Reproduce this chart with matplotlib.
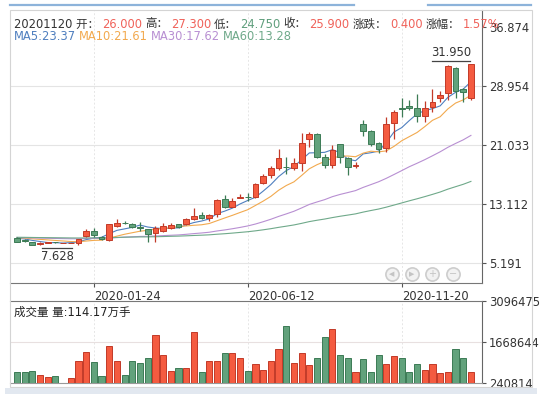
import matplotlib
matplotlib.use('Agg')
import matplotlib.pyplot as plt
import numpy as np
import pandas as pd
from matplotlib.lines import Line2D
from matplotlib.patches import Rectangle

W, H = 543, 395

# weekly K-line data (visible window)
opens = [8.54, 8.30, 8.05, 7.73, 7.95, 8.02, 7.90, 7.90, 7.91, 8.85,
         9.56, 8.76, 8.31, 10.19, 10.60, 10.46, 10.05, 9.74, 9.21, 9.56,
         9.97, 10.41, 10.41, 11.08, 11.62, 11.31, 11.75, 13.76, 12.78, 13.98,
         14.10, 14.12, 15.91, 17.03, 18.01, 18.15, 17.92, 18.59, 21.85, 22.52,
         19.48, 18.37, 21.14, 19.35, 18.23, 23.82, 22.97, 21.36, 20.60, 24.04,
         26.00, 26.32, 26.05, 24.93, 26.19, 27.30, 28.06, 31.32, 28.51, 27.30]
highs = [8.67, 8.40, 8.10, 8.00, 8.05, 8.10, 7.95, 7.96, 8.50, 9.74,
         9.88, 8.80, 10.50, 11.08, 10.80, 10.60, 10.70, 9.80, 10.20, 10.55,
         10.55, 10.50, 11.30, 12.56, 12.00, 11.80, 13.80, 14.30, 13.90, 14.50,
         14.60, 16.00, 17.10, 18.23, 20.47, 19.48, 19.26, 22.61, 22.83, 22.60,
         19.80, 21.05, 21.20, 19.40, 18.80, 24.40, 23.10, 21.50, 24.76, 25.75,
         27.30, 27.08, 27.84, 26.99, 28.51, 28.33, 31.77, 31.46, 28.70, 31.95]
lows = [8.00, 8.00, 7.65, 7.628, 7.90, 7.90, 7.88, 7.86, 7.70, 8.67,
        8.76, 8.35, 8.20, 10.10, 10.40, 9.90, 9.50, 8.09, 8.05, 9.43,
        9.83, 9.90, 10.30, 10.99, 11.10, 10.80, 11.40, 12.60, 12.70, 13.90,
        13.60, 14.00, 15.80, 16.60, 17.70, 17.16, 17.70, 17.61, 20.73, 19.30,
        17.92, 17.92, 18.59, 17.03, 17.90, 22.20, 20.90, 19.93, 20.15, 21.81,
        24.75, 25.75, 24.17, 24.17, 25.43, 26.85, 27.08, 27.30, 26.85, 27.10]
closes = [8.09, 8.15, 7.69, 7.96, 8.00, 7.98, 7.92, 7.93, 8.45, 9.56,
          8.98, 8.45, 10.41, 10.64, 10.55, 10.01, 9.95, 9.12, 9.97, 10.19,
          10.32, 10.10, 11.13, 11.53, 11.22, 11.71, 13.67, 12.78, 13.54, 14.03,
          14.05, 15.82, 16.89, 17.92, 19.35, 18.10, 18.59, 21.36, 22.52, 19.48,
          18.37, 20.38, 19.39, 18.14, 18.39, 22.97, 21.17, 20.47, 23.82, 25.50,
          25.90, 25.96, 24.93, 25.96, 26.85, 27.75, 31.64, 28.33, 28.11, 31.85]
volumes = [617, 617, 653, 530, 458, 494, 250, 422, 1014, 1340,
           978, 494, 1531, 1014, 530, 1014, 930, 1123, 1918, 1217,
           653, 783, 783, 2012, 628, 1014, 1014, 1279, 1303, 1123,
           653, 917, 711, 1014, 1434, 2218, 930, 1279, 855, 1123,
           1857, 2110, 1206, 1108, 628, 1072, 628, 1217, 917, 1180,
           1123, 628, 917, 711, 895, 600, 628, 1434, 1108, 640]
volumes = [v * 1000 for v in volumes]

# closes before the visible window (only used for the moving averages)
prev_close = [8.62, 8.75, 8.81, 8.70, 8.58, 8.66, 8.79, 8.93, 8.85, 8.72,
              8.64, 8.55, 8.61, 8.74, 8.88, 8.96, 8.83, 8.71, 8.59, 8.52,
              8.60, 8.69, 8.77, 8.84, 8.90, 8.81, 8.68, 8.57, 8.49, 8.55,
              8.63, 8.72, 8.80, 8.76, 8.65, 8.58, 8.51, 8.47, 8.54, 8.62,
              8.70, 8.78, 8.73, 8.66, 8.59, 8.53, 8.61, 8.69, 8.75,
              8.80, 8.72, 8.65, 8.70, 8.74, 8.68, 8.63, 8.67, 8.71, 8.66]

date_pos = [10, 30, 50]
date_labels = ['2020-01-24', '2020-06-12', '2020-11-20']
price_ticks = [5.191, 13.112, 21.033, 28.954, 36.874]
vol_ticks = [240814, 1668644, 3096475]

header = [('20201120 开：', '#333333'), ('26.000', '#f0625a'), ('高：', '#333333'),
          ('27.300', '#f0625a'), ('低：', '#333333'), ('24.750', '#5f9e7c'),
          ('收：', '#333333'), ('25.900', '#f0625a'), ('涨跌：', '#333333'),
          ('0.400', '#f0625a'), ('涨幅：', '#333333'), ('1.57%', '#f0625a')]
ma_text = [('MA5:23.37', '#4f7fbf'), ('MA10:21.61', '#f2a94e'),
           ('MA30:17.62', '#b88fd2'), ('MA60:13.28', '#6fa98a')]
vol_title = '成交量 量:114.17万手'

RED, RED_E = '#f45b40', '#c23a28'
GRN, GRN_E = '#62a27c', '#3c7b55'
FAM = ['DejaVu Sans', 'Noto Sans CJK SC']
FS = 8.3

o = np.array(opens); c = np.array(closes)
hi = np.array(highs); lo = np.array(lows)
x = np.arange(len(o))
up = c >= o

allc = pd.Series(prev_close + closes)
n0 = len(prev_close)
mas = {}
for n in [5, 10, 30, 60]:
    mas[n] = allc.rolling(n, min_periods=1).mean().values[n0:]


def fx(px):
    return px / W


def fy(py):
    return 1 - py / H


fig = plt.figure(figsize=(W / 100, H / 100), dpi=100)
fig.patch.set_facecolor('white')

# outer frame + decorations
fig.add_artist(Rectangle((fx(10), fy(387)), fx(521.7), 377 / H, transform=fig.transFigure,
                         fill=False, ec='#d4d4d4', lw=0.8))
fig.add_artist(Line2D([fx(10), fx(354)], [fy(5), fy(5)], transform=fig.transFigure, color='#8db3da', lw=1.6))
fig.add_artist(Line2D([fx(428), fx(531)], [fy(5), fy(5)], transform=fig.transFigure, color='#8db3da', lw=1.6))
fig.add_artist(Rectangle((fx(5), fy(393.5)), fx(532), 5.5 / H, transform=fig.transFigure,
                         color='#e2e8f0', lw=0))

ax = fig.add_axes([fx(10), fy(283.2), fx(471.7), 273.2 / H])
av = fig.add_axes([fx(10), fy(383.1), fx(471.7), 81.9 / H])

# price panel
for p in price_ticks[:-1]:
    ax.axhline(p, color='#e4e4e4', lw=0.8, zorder=0)
for d in date_pos:
    ax.axvline(d, color='#e6e6e6', lw=0.7, ls=(0, (2, 2)), zorder=0)
    av.axvline(d, color='#e6e6e6', lw=0.7, ls=(0, (2, 2)), zorder=0)

for n, (lbl, col) in zip([5, 10, 30, 60], ma_text):
    ax.plot(x, mas[n], color=col, lw=0.8, zorder=2)

cols = np.where(up, RED, GRN)
ecols = np.where(up, RED_E, GRN_E)
ax.vlines(x, lo, hi, colors=ecols, lw=0.9, zorder=3)
body_lo = np.minimum(o, c)
body_h = np.maximum(np.abs(c - o), 0.06)
ax.bar(x, body_h, bottom=body_lo, width=0.75, color=cols, edgecolor=ecols, lw=0.7, zorder=4)

# min / max markers
imin = int(np.argmin(lo)); imax = int(np.argmax(hi))
ax.plot([imin + 0.2, imin + 4.2], [lo[imin] - 0.4, lo[imin] - 0.4], color='#444444', lw=0.9, zorder=5)
ax.text(imin + 2.2, lo[imin] - 0.6, f'{lo[imin]:.3f}', ha='center', va='top', fontsize=FS, color='#333333')
ax.plot([imax - 5.0, imax - 0.1], [hi[imax] + 0.4, hi[imax] + 0.4], color='#444444', lw=0.9, zorder=5)
ax.text(imax - 2.6, hi[imax] + 0.6, f'{hi[imax]:.3f}', ha='center', va='bottom', fontsize=FS, color='#333333')

ax.set_xlim(-0.9, 60.4)
ax.set_ylim(2.524, 39.14)
ax.yaxis.tick_right()
ax.set_yticks(price_ticks)
ax.set_yticklabels([f'{p:.3f}' for p in price_ticks])
ax.set_xticks(date_pos)
ax.set_xticklabels(date_labels)
for t in ax.get_xticklabels():
    t.set_ha('left')
ax.tick_params(axis='y', length=3, width=0.8, color='#555555', labelsize=FS, labelcolor='#333333', pad=2)
ax.tick_params(axis='x', length=3, width=0.8, color='#555555', labelsize=FS, labelcolor='#333333', pad=2)
for s in ['top', 'left']:
    ax.spines[s].set_visible(False)
ax.spines['right'].set_color('#666666')
ax.spines['bottom'].set_color('#777777')

# volume panel
av.axhline(vol_ticks[1], color='#e8e0e0', lw=0.8, zorder=0)
av.bar(x, volumes, width=0.8, color=cols, edgecolor=ecols, lw=0.7, zorder=3)
av.set_xlim(-0.9, 60.4)
av.set_ylim(vol_ticks[0], vol_ticks[-1])
av.yaxis.tick_right()
av.set_yticks(vol_ticks)
av.set_yticklabels([str(v) for v in vol_ticks])
av.set_xticks([])
av.tick_params(axis='y', length=3, width=0.8, color='#555555', labelsize=FS, labelcolor='#333333', pad=2)
av.spines['left'].set_visible(False)
av.spines['top'].set_color('#777777')
av.spines['right'].set_color('#666666')
av.spines['bottom'].set_color('#999999')
av.text(0.008, 0.87, vol_title, transform=av.transAxes, fontsize=FS, color='#222222',
        family=FAM, va='center', ha='left')

# zoom buttons
for bx, sym in zip([391.7, 411.7, 432.3, 452.7], ['◀', '▶', '+', '−']):
    fig.add_artist(Line2D([fx(bx)], [fy(274)], marker='o', markersize=9.5, mfc='#f2f2f2',
                          mec='#cdcdcd', mew=1.2, transform=fig.transFigure))
    fig.text(fx(bx), fy(274), sym, ha='center', va='center', fontsize=5 if sym in '◀▶' else 7,
             color='#c4c4c4', family='DejaVu Sans')

# header texts
fig.canvas.draw()
renderer = fig.canvas.get_renderer()


def put_pieces(x_px, y_px, pieces, gap):
    xx = x_px
    for s, col in pieces:
        t = fig.text(fx(xx), fy(y_px), s, color=col, fontsize=FS, family=FAM, va='center', ha='left')
        bb = t.get_window_extent(renderer=renderer)
        xx = bb.x1 + gap


put_pieces(14, 24, header, 3)
put_pieces(14, 36.5, ma_text, 3)

fig.savefig('out.png', dpi=100)
